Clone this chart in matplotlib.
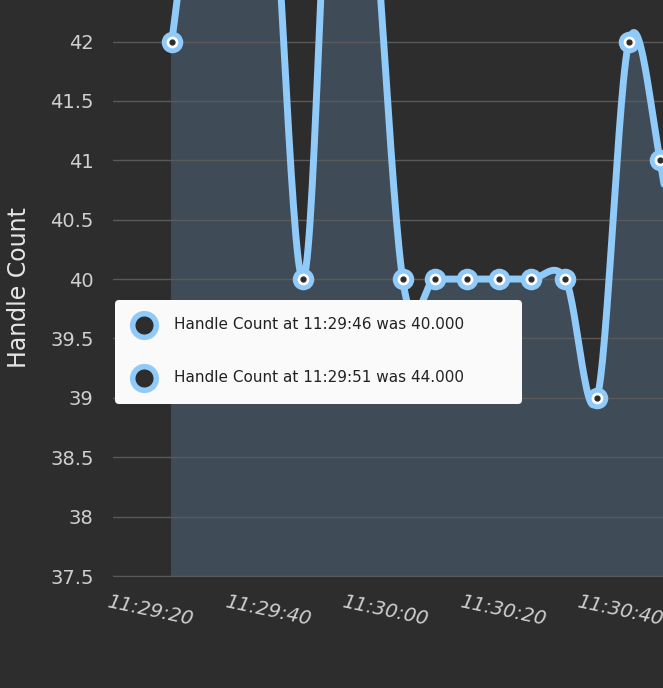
import numpy as np
import matplotlib
matplotlib.use("Agg")
import matplotlib.pyplot as plt
from matplotlib.patches import FancyBboxPatch

# seconds after 11:29:00
times = [23.7, 29.2, 34.6, 40.1, 46.0, 51.0, 56.5, 63.0, 68.5, 74.0, 79.4, 84.9, 90.7, 96.1, 101.5, 106.8, 112.3]
counts = [42, 44, 45, 44, 40, 44, 44, 40, 40, 40, 40, 40, 40, 39, 42, 41, 39]
tick_secs = [20, 40, 60, 80, 100]
tick_labels = ["11:29:20", "11:29:40", "11:30:00", "11:30:20", "11:30:40"]
tips = ["Handle Count at 11:29:46 was 40.000", "Handle Count at 11:29:51 was 44.000"]

bg = "#2d2d2d"
line_c = "#90caf9"
txt_c = "#c8c8c8"

def catmull(x, y, n=30):
    x = np.asarray(x, float); y = np.asarray(y, float)
    px = np.r_[x[0], x, x[-1]]; py = np.r_[y[0], y, y[-1]]
    ox, oy = [], []
    t = np.linspace(0, 1, n)
    for i in range(1, len(px) - 2):
        for arr, out in ((px, ox), (py, oy)):
            p0, p1, p2, p3 = arr[i-1], arr[i], arr[i+1], arr[i+2]
            out.extend(0.5 * ((2*p1) + (-p0+p2)*t + (2*p0-5*p1+4*p2-p3)*t**2 + (-p0+3*p1-3*p2+p3)*t**3))
    return np.array(ox), np.array(oy)

fig = plt.figure(figsize=(6.63, 6.88), dpi=100, facecolor=bg)
ax = fig.add_axes([113/663, 112/688, 550/663, 576/688])
ax.set_facecolor(bg)
sx, sy = catmull(times, counts)
ax.fill_between(sx, 37.5, sy, color="#3f4c57", zorder=1)
ax.plot(sx, sy, color=line_c, lw=5, zorder=3, solid_capstyle="round")
ax.plot(times, counts, "o", ms=12, mfc="white", mec=line_c, mew=3.5, zorder=4)
ax.plot(times, counts, "o", ms=3.5, color="#2d2d2d", zorder=5)

ax.set_xlim(13.7, 107.3)
ax.set_ylim(37.5, 42.35)
ax.set_yticks(np.arange(37.5, 42.01, 0.5))
ax.set_yticklabels(["37.5", "38", "38.5", "39", "39.5", "40", "40.5", "41", "41.5", "42"])
ax.set_xticks(tick_secs)
ax.set_xticklabels(tick_labels, rotation=-12, ha="center", style="italic")
ax.grid(axis="y", color="#5a5a5a", lw=1, zorder=2)
ax.set_axisbelow(False)
for s in ax.spines.values():
    s.set_visible(False)
ax.spines["bottom"].set_visible(True)
ax.spines["bottom"].set_color("#5a5a5a")
ax.tick_params(colors="#cfcfcf", labelsize=14, length=0, pad=12)
ax.tick_params(axis="y", pad=14)
ax.set_ylabel("Handle Count", color="#e6e6e6", fontsize=17, labelpad=14)

# tooltip
box = FancyBboxPatch((115/663, (688-404)/688), 407/663, 104/688, boxstyle="round,pad=0,rounding_size=0.006",
                     transform=fig.transFigure, fc="#fafafa", ec="none", zorder=10)
fig.patches.append(box)
for i, t in enumerate(tips):
    yy = (688 - (325 + 53*i)) / 688
    fig.add_artist(plt.Line2D([144/663], [yy], marker="o", ms=17, mfc="#2d2d2d", mec=line_c, mew=4,
                              transform=fig.transFigure, zorder=11))
    fig.text(174/663, yy, t, fontsize=11, color="#222222", va="center", zorder=11)

fig.savefig("out.png", dpi=100, facecolor=bg)
